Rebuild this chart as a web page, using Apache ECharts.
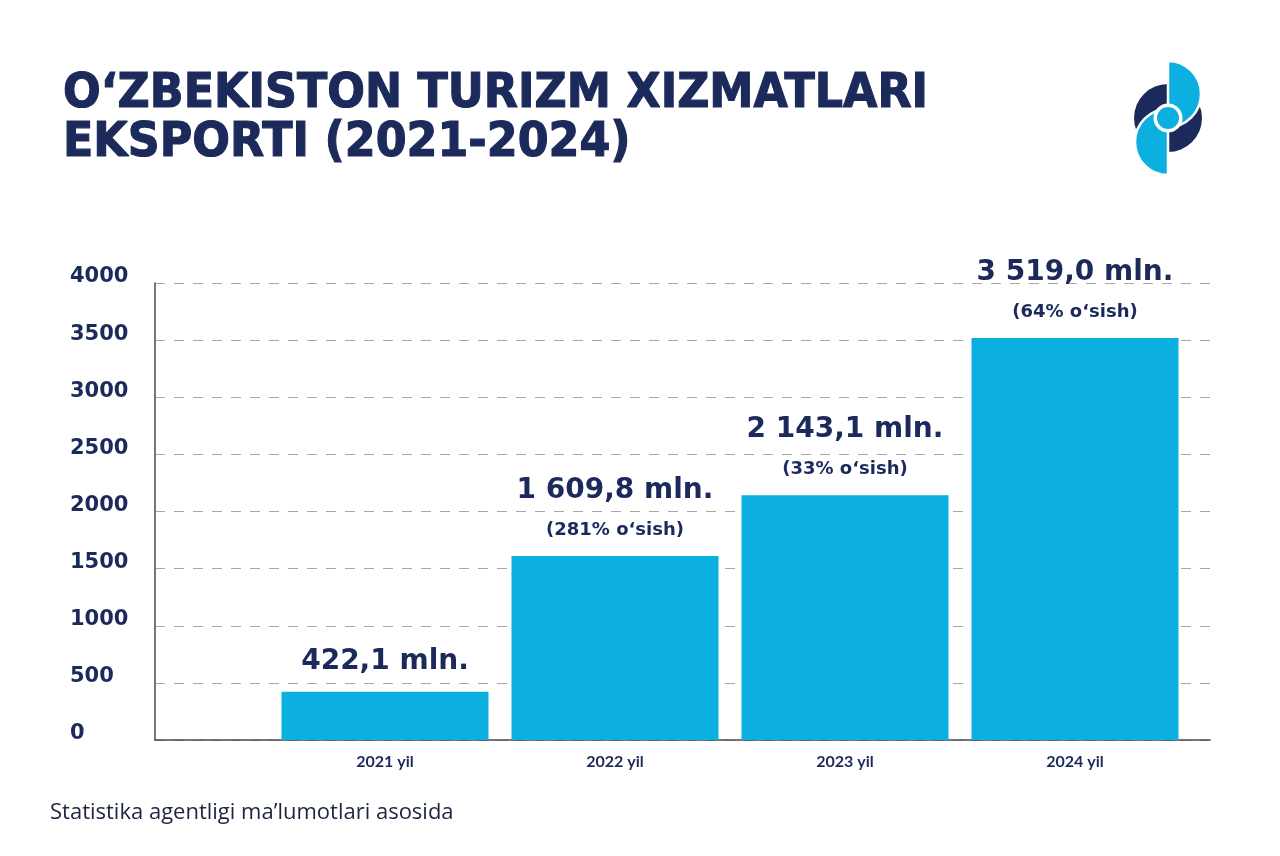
<!DOCTYPE html>
<html>
<head>
<meta charset="utf-8">
<script src="https://cdn.jsdelivr.net/npm/echarts@6/dist/echarts.min.js"></script>
<style>
  html, body { margin: 0; padding: 0; background: #ffffff; }
  #chart { width: 1280px; height: 856px; }
</style>
</head>
<body>
<div id="chart"></div>
<script>
// ---- Data ----
const categories = ['2021 yil', '2022 yil', '2023 yil', '2024 yil'];
const exportValues = [422.1, 1609.8, 2143.1, 3519.0];   // mln. USD
const growthPercent = [null, 281, 33, 64];               // % o‘sish
const yTicks = [0, 500, 1000, 1500, 2000, 2500, 3000, 3500, 4000];

const NAVY = '#1c2a5b';
const CYAN = '#0bb0e0';

function fmtValue(v) {
  const parts = v.toFixed(1).split('.');
  const intPart = parts[0].replace(/\B(?=(\d{3})+(?!\d))/g, ' ');
  return intPart + ',' + parts[1] + ' mln.';
}

const seriesData = exportValues.map((v, i) => [i + 1, v]);

const chart = echarts.init(document.getElementById('chart'), null, { renderer: 'canvas' });

const option = {
  backgroundColor: '#ffffff',
  animation: false,
  grid: { left: 155, right: 70, top: 283, bottom: 116, containLabel: false },
  xAxis: {
    type: 'value',
    min: 0,
    max: 1055 / 230,
    interval: 1,
    axisLine: { show: true, lineStyle: { color: '#4a4a4a', width: 1.5 } },
    axisTick: { show: false },
    splitLine: { show: false },
    axisLabel: {
      margin: 14,
      color: NAVY,
      fontFamily: 'Lato',
      fontWeight: 'bold',
      fontSize: 16,
      formatter: function (v) {
        if (Math.abs(v - Math.round(v)) > 1e-6) return '';
        const c = categories[Math.round(v) - 1];
        return c || '';
      }
    }
  },
  yAxis: {
    type: 'value',
    min: yTicks[0],
    max: yTicks[yTicks.length - 1],
    interval: yTicks[1] - yTicks[0],
    axisLine: { show: true, lineStyle: { color: '#4a4a4a', width: 1.5 } },
    axisTick: { show: false },
    splitLine: { show: true, lineStyle: { color: '#a8a8a8', type: [10, 9], width: 1 } },
    axisLabel: {
      align: 'left',
      verticalAlign: 'bottom',
      lineHeight: 12,
      margin: 85,
      color: NAVY,
      fontFamily: 'DejaVu Sans',
      fontWeight: 'bold',
      fontSize: 21,
      formatter: function (v) { return String(v); }
    }
  },
  series: [{
    type: 'bar',
    barWidth: 207,
    data: seriesData,
    itemStyle: { color: CYAN },
    label: {
      show: true,
      position: 'top',
      distance: 13,
      formatter: function (p) {
        const i = p.dataIndex;
        const g = growthPercent[i];
        if (g == null) return '{a|' + fmtValue(exportValues[i]) + '}';
        return '{b|' + fmtValue(exportValues[i]) + '}\n{s|(' + g + '% o‘sish)}';
      },
      rich: {
        a: { color: NAVY, fontFamily: 'DejaVu Sans', fontWeight: 'bold', fontSize: 28, lineHeight: 34 },
        b: { color: NAVY, fontFamily: 'DejaVu Sans', fontWeight: 'bold', fontSize: 28, lineHeight: 52 },
        s: { color: NAVY, fontFamily: 'DejaVu Sans', fontWeight: 'bold', fontSize: 18, lineHeight: 26 }
      }
    }
  }],
  graphic: [
    {
      type: 'text',
      x: 63,
      y: 70,
      scaleX: 0.925,
      style: {
        text: 'O‘ZBEKISTON TURIZM XIZMATLARI\nEKSPORTI (2021-2024)',
        fill: NAVY,
        stroke: NAVY,
        lineWidth: 1.2,
        font: 'bold 48px "DejaVu Sans"',
        lineHeight: 49,
        verticalAlign: 'top',
        align: 'left'
      }
    },
    {
      type: 'text',
      x: 50,
      y: 802,
      style: {
        text: 'Statistika agentligi ma’lumotlari asosida',
        fill: '#1e2540',
        font: '22px "Open Sans"',
        verticalAlign: 'top',
        align: 'left'
      }
    },
    // logo
    {
      type: 'group',
      children: [
        { type: 'circle', shape: { cx: 1168, cy: 118, r: 34 }, style: { fill: NAVY } },
        { type: 'sector', shape: { cx: 1168, cy: 94, r: 33, r0: 0, startAngle: -Math.PI / 2, endAngle: Math.PI / 2, clockwise: true }, style: { fill: CYAN, stroke: '#fff', lineWidth: 2.5 } },
        { type: 'sector', shape: { cx: 1168, cy: 142, r: 33, r0: 0, startAngle: Math.PI / 2, endAngle: Math.PI * 3 / 2, clockwise: true }, style: { fill: CYAN, stroke: '#fff', lineWidth: 2.5 } },
        { type: 'circle', shape: { cx: 1168, cy: 118, r: 14.5 }, style: { fill: '#fff' } },
        { type: 'circle', shape: { cx: 1168, cy: 118, r: 11 }, style: { fill: CYAN } }
      ]
    }
  ]
};

chart.setOption(option);
</script>
</body>
</html>
